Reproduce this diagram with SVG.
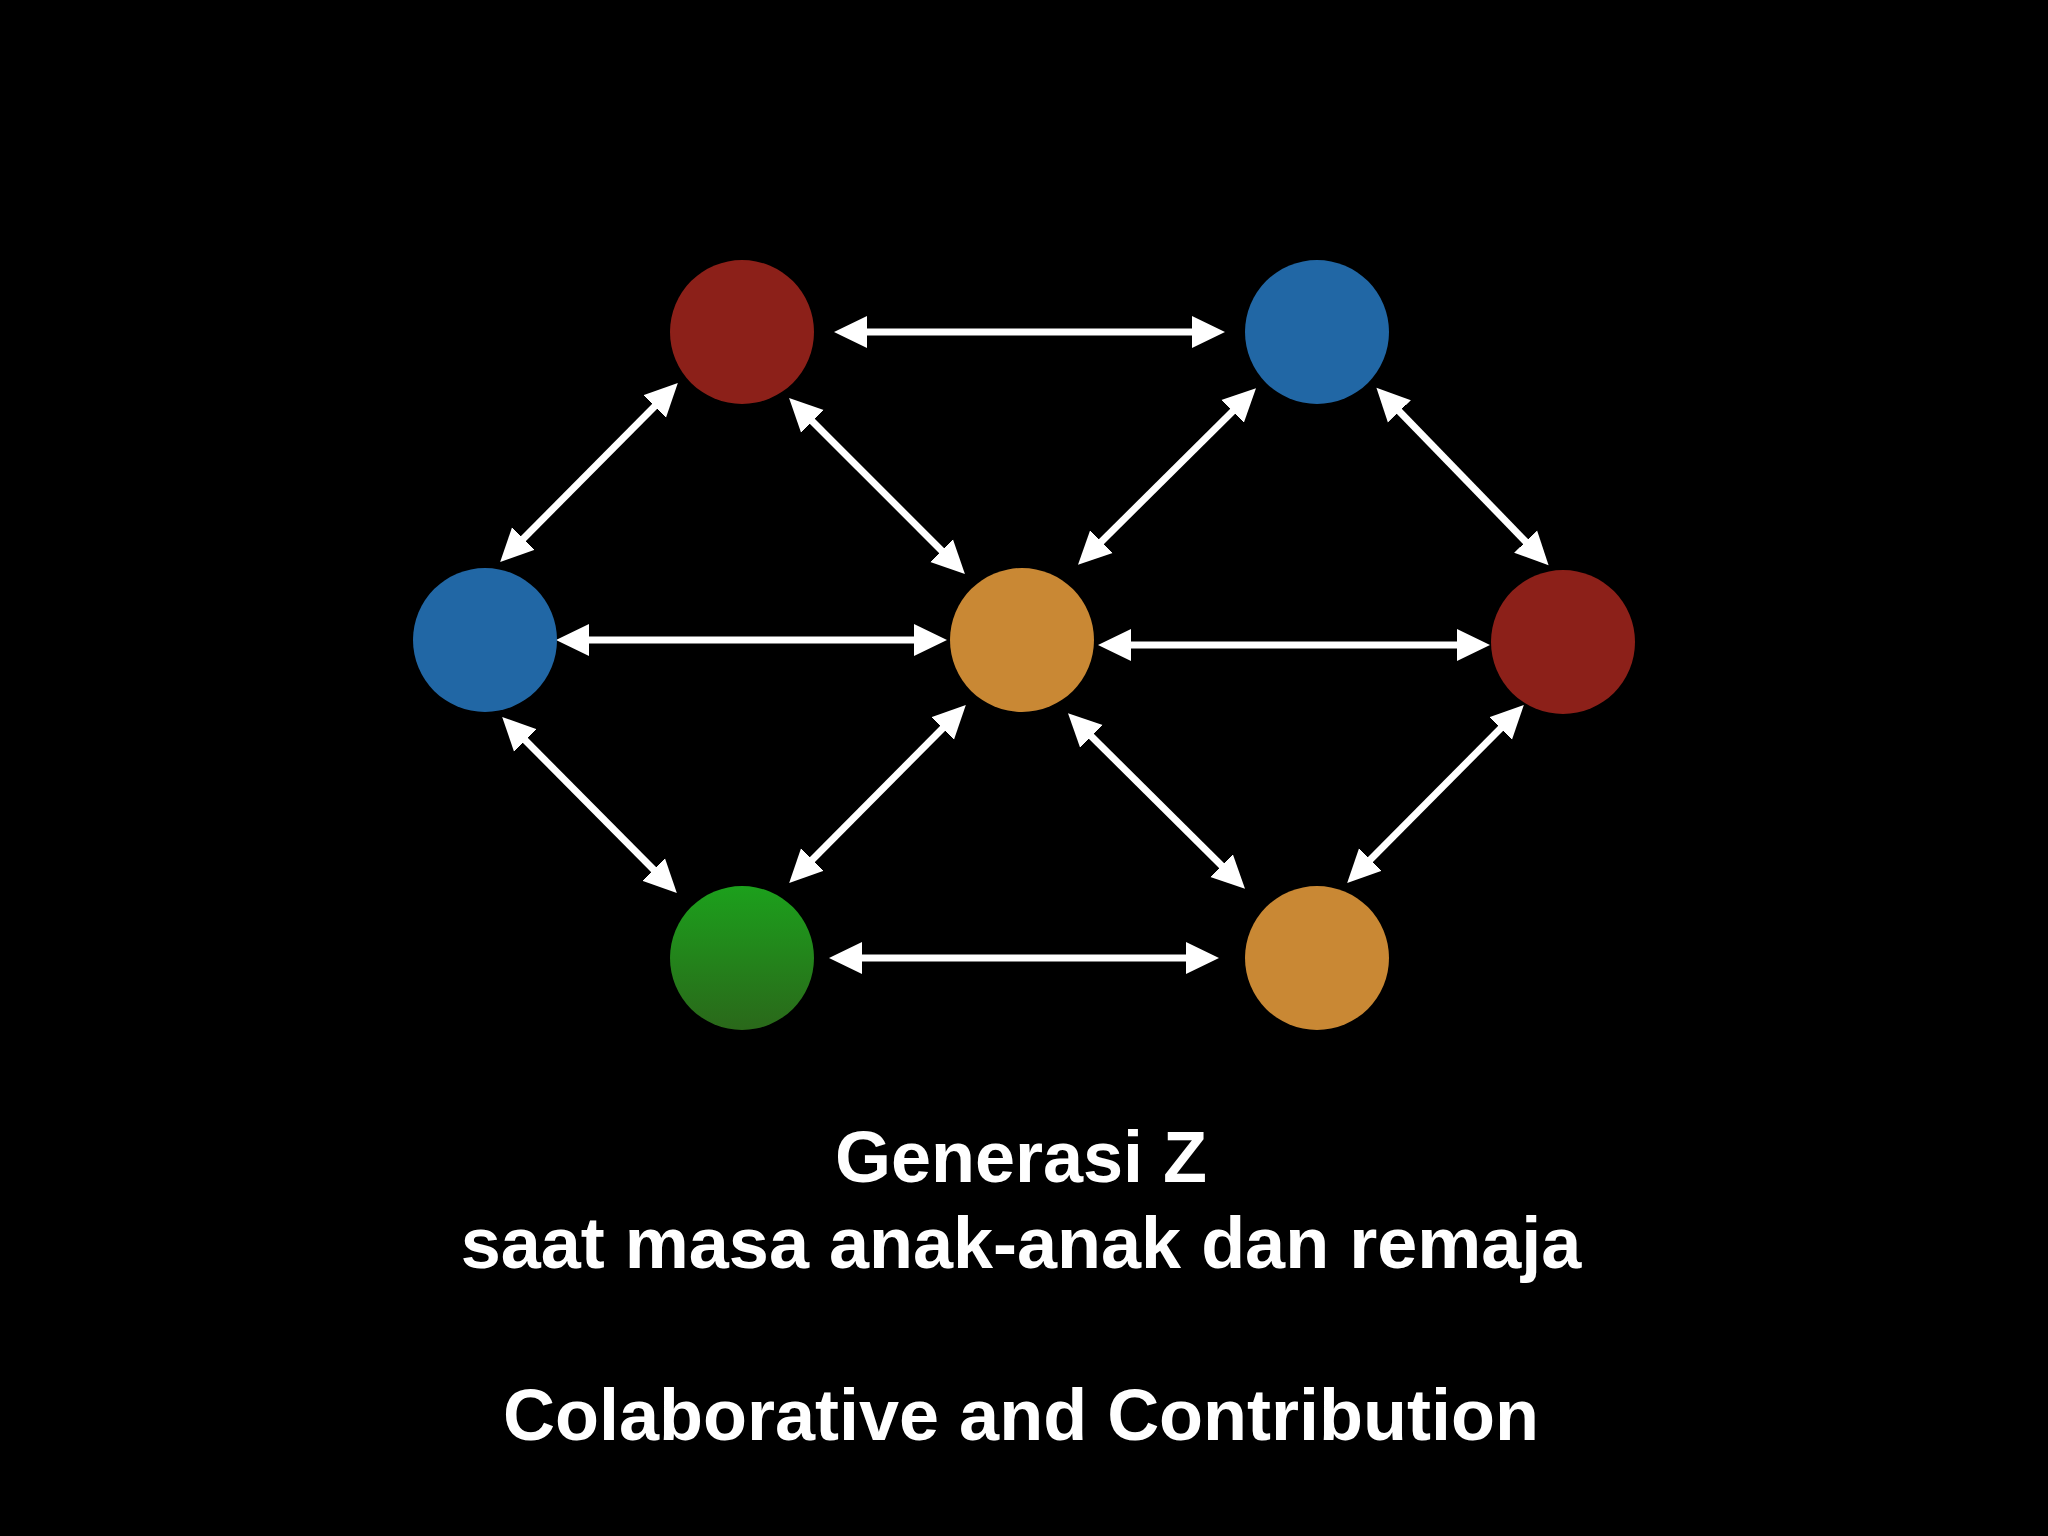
<svg xmlns="http://www.w3.org/2000/svg" width="2048" height="1536" viewBox="0 0 2048 1536">
  <defs>
    <linearGradient id="gGreen" x1="0" y1="0" x2="0" y2="1">
      <stop offset="0" stop-color="#1ca01c"/>
      <stop offset="1" stop-color="#2a681a"/>
    </linearGradient>
    <marker id="ah" markerUnits="userSpaceOnUse" markerWidth="40" markerHeight="40" viewBox="0 -20 40 40" refX="2" refY="0" orient="auto-start-reverse">
      <path d="M0,-16 L33,0 L0,16 Z" fill="#ffffff"/>
    </marker>
  </defs>
  <style>
    .conn { stroke: #ffffff; stroke-width: 7; fill: none; marker-start: url(#ah); marker-end: url(#ah); }
    .red { fill: #8c2019; }
    .blue { fill: #2167a5; }
    .orange { fill: #c98834; }
    .green { fill: url(#gGreen); }
    .title { font-family: "Liberation Sans", Arial, sans-serif; font-weight: bold; font-size: 72px; fill: #ffffff; text-anchor: middle; }
  </style>
  <rect x="0" y="0" width="2048" height="1536" fill="#000000"/>

  <g id="connectors">
    <line class="conn" x1="865" y1="332" x2="1194" y2="332"/>
    <line class="conn" x1="656" y1="405" x2="522" y2="540"/>
    <line class="conn" x1="811" y1="420" x2="943" y2="552"/>
    <line class="conn" x1="1234" y1="410" x2="1100" y2="543"/>
    <line class="conn" x1="1398" y1="410" x2="1527" y2="543"/>
    <line class="conn" x1="587" y1="640" x2="916" y2="640"/>
    <line class="conn" x1="1129" y1="645" x2="1459" y2="645"/>
    <line class="conn" x1="524" y1="739" x2="655" y2="871"/>
    <line class="conn" x1="944" y1="727" x2="811" y2="861"/>
    <line class="conn" x1="1090" y1="735" x2="1223" y2="867"/>
    <line class="conn" x1="1502" y1="727" x2="1369" y2="861"/>
    <line class="conn" x1="860" y1="958" x2="1188" y2="958"/>
  </g>

  <g id="node-top-left"><circle class="red" cx="742" cy="332" r="72"/></g>
  <g id="node-top-right"><circle class="blue" cx="1317" cy="332" r="72"/></g>
  <g id="node-left"><circle class="blue" cx="485" cy="640" r="72"/></g>
  <g id="node-center"><circle class="orange" cx="1022" cy="640" r="72"/></g>
  <g id="node-right"><circle class="red" cx="1563" cy="642" r="72"/></g>
  <g id="node-bottom-left"><circle class="green" cx="742" cy="958" r="72"/></g>
  <g id="node-bottom-right"><circle class="orange" cx="1317" cy="958" r="72"/></g>

  <g id="caption">
    <text class="title" x="1021" y="1182">Generasi Z</text>
    <text class="title" x="1021" y="1268">saat masa anak-anak dan remaja</text>
    <text class="title" x="1021" y="1440">Colaborative and Contribution</text>
  </g>
</svg>
